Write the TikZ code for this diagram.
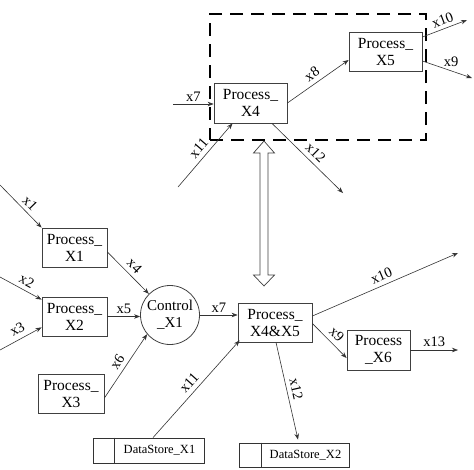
\documentclass[tikz,border=0pt]{standalone}
\usepackage{fontspec}
\setmainfont{Liberation Serif}
\usetikzlibrary{arrows.meta,shadows,calc}
\begin{document}
\begin{tikzpicture}[x=1pt,y=-1pt,
  proc/.style={draw=black!75,line width=0.8pt,align=center,inner sep=0pt,
    font=\fontsize{15.5}{17}\selectfont},
  ctrl/.style={circle,draw=black!75,line width=0.8pt,align=center,inner sep=0pt,
    minimum size=59pt,font=\fontsize{15}{17}\selectfont},
  store/.style={draw=black!80,line width=0.8pt,inner sep=0pt,
    drop shadow={shadow xshift=0.8pt,shadow yshift=-0.8pt,fill=black!60,opacity=1},
    fill=white,font=\fontsize{12.5}{14}\selectfont},
  flow/.style={draw=black!80,line width=0.6pt,-{Stealth[length=6pt,width=4.5pt]}},
  lbl/.style={font=\fontsize{14.5}{16}\selectfont,inner sep=1.5pt},
  frame/.style={draw=black,line width=2pt,dash pattern=on 13pt off 8pt}
]
\useasboundingbox (0,0) rectangle (474,469);

% dashed frame
\node[frame,minimum width=216pt,minimum height=126pt,inner sep=0pt] (F) at (318,77) {};

% process nodes
\node[proc,minimum width=65pt,minimum height=39pt] (X1) at (74.5,247.5) {Process\_\\X1};
\node[proc,minimum width=65pt,minimum height=39pt] (X2) at (74.5,316.5) {Process\_\\X2};
\node[proc,minimum width=66pt,minimum height=39pt] (X3) at (71,393.5) {Process\_\\X3};
\node[ctrl] (C) at (170,315) {Control\\\_X1};
\node[proc,minimum width=74pt,minimum height=39pt] (X45) at (275,322.5) {Process\_\\X4\&X5};
\node[proc,minimum width=63pt,minimum height=40pt] (X6) at (378.5,350) {Process\\\_X6};
\node[proc,minimum width=73pt,minimum height=40pt] (X4) at (250.5,103) {Process\_\\X4};
\node[proc,minimum width=73pt,minimum height=39pt] (X5) at (385.5,51.5) {Process\_\\X5};

% data stores
\node[store,minimum width=111pt,minimum height=25pt] (DS1) at (148.5,450.5) {};
\draw[draw=black!80,line width=0.8pt] ([xshift=22pt]DS1.north west) -- ([xshift=22pt]DS1.south west);
\node[font=\fontsize{12.5}{14}\selectfont,anchor=center] (DS1t) at ($(DS1.center)+(11,0)$) {DataStore\_X1};
\node[store,minimum width=110pt,minimum height=24pt] (DS2) at (294,455) {};
\draw[draw=black!80,line width=0.8pt] ([xshift=23pt]DS2.north west) -- ([xshift=23pt]DS2.south west);
\node[font=\fontsize{12.5}{14}\selectfont,anchor=center] (DS2t) at ($(DS2.center)+(11.5,0)$) {DataStore\_X2};

% free ends
\coordinate (i1) at (0,185);
\coordinate (i2) at (0,277);
\coordinate (i3) at (0,350);
\coordinate (o10) at (458,253);
\coordinate (o13) at (458,350);
\coordinate (i7) at (173,104);
\coordinate (i11) at (178,187);
\coordinate (o12) at (343,193);
\coordinate (o10t) at (467,20);
\coordinate (o9t) at (472,78);

% connectors
\draw[flow] (i1) -- node[lbl,pos=.57,sloped,above=2.5pt] {x1} (X1.north west);
\draw[flow] (i2) -- node[lbl,pos=.54,sloped,above=2.5pt] {x2} ([yshift=-3pt]X2.north west);
\draw[flow] (i3) -- node[lbl,pos=.53,sloped,above=3.5pt] {x3} ([yshift=9pt]X2.south west);
\draw[flow] ([yshift=-4.5pt]X1.east) -- node[lbl,pos=.49,sloped,above=3pt] {x4} (C.135);
\draw[flow] (X2.east) -- node[lbl,pos=.5,above=1pt] {x5} (X2.east -| C.west);
\draw[flow] ([yshift=-4.5pt]X3.east) -- node[lbl,pos=.49,sloped,above=3pt] {x6} (C.220);
\draw[flow] (C.east) -- node[lbl,pos=.5,above=1pt] {x7} (C.east -| X45.west);
\draw[flow] ([xshift=4.5pt]DS1.north) -- node[lbl,pos=.5,sloped,above=3pt] {x11} ([xshift=2pt,yshift=2pt]X45.south west);
\draw[flow] ([xshift=1pt]X45.south) -- node[lbl,pos=.5,sloped,above=3pt] {x12} ([xshift=4pt,yshift=3pt]DS2.north);
\draw[flow] ([yshift=6.5pt]X45.east) -- node[lbl,pos=.5,sloped,above=3pt] {x10} (o10);
\draw[flow] ([yshift=-1pt]X45.east) -- node[lbl,pos=.51,sloped,above=3pt] {x9} ([yshift=-8pt]X6.west);
\draw[flow] (X6.east) -- node[lbl,pos=.5,above=2pt] {x13} (o13);
\draw[flow] (i7) -- node[lbl,pos=.5,above=1pt] {x7} (i7 -| X4.west);
\draw[flow] (i11) -- node[lbl,pos=.51,sloped,above=3pt] {x11} ([xshift=-18pt]X4.south);
\draw[flow] ([xshift=21.5pt]X4.south) -- node[lbl,pos=.52,sloped,above=3pt] {x12} (o12);
\draw[flow] (X4.east) -- node[lbl,pos=.49,sloped,above=3pt] {x8} ([yshift=-8.5pt]X5.west);
\draw[flow] ([yshift=14.5pt]X5.east) -- node[lbl,pos=.52,sloped,above=2pt] {x10} (o10t);
\draw[flow] ([yshift=-9.5pt]X5.east) -- node[lbl,pos=.58,above=2pt] {x9} (o9t);

% hollow double arrow between frame and X4&X5
\coordinate (da1) at (264,141);
\coordinate (da2) at (264,286);
\draw[draw=black!75,line width=0.7pt,fill=white]
  (da1) -- ++(10.5,12) -- ++(-6.5,0) -- ($(da2)+(4,-11)$) -- ++(6.5,0) -- (da2)
  -- ++(-10.5,-11) -- ++(6.5,0) -- ($(da1)+(-4,12)$) -- ++(-6.5,0) -- cycle;
\end{tikzpicture}
\end{document}
